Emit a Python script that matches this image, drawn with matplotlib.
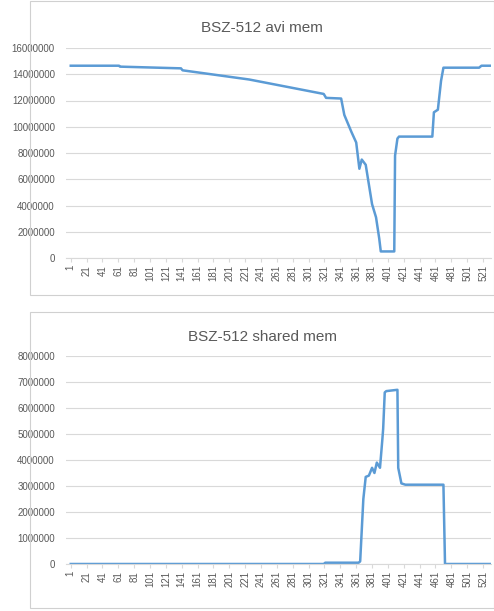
import matplotlib
matplotlib.use("Agg")
import matplotlib.pyplot as plt
from matplotlib.patches import Rectangle

avi_x = [1, 62, 63, 140, 142, 226, 320, 323, 342, 346, 355, 361, 365, 368, 373, 377, 381, 386, 390, 392, 409, 410, 413, 415, 457, 459, 464, 468, 471, 516, 519, 530]
avi_y = [14650000, 14650000, 14580000, 14450000, 14300000, 13600000, 12500000, 12200000, 12150000, 10900000, 9600000, 8800000, 6800000, 7500000, 7100000, 5600000, 4100000, 3100000, 1500000, 500000, 500000, 7800000, 9100000, 9250000, 9250000, 11100000, 11300000, 13500000, 14500000, 14500000, 14650000, 14650000]

sh_x = [1, 320, 322, 364, 366, 370, 373, 377, 381, 384, 387, 391, 394, 395, 397, 399, 413, 414, 418, 423, 471, 473, 530]
sh_y = [0, 0, 50000, 50000, 100000, 2500000, 3350000, 3400000, 3700000, 3500000, 3900000, 3700000, 4800000, 5200000, 6600000, 6650000, 6700000, 3700000, 3100000, 3050000, 3050000, 0, 0]

xticks = list(range(1, 531, 20))
titles = ["BSZ-512 avi mem", "BSZ-512 shared mem"]

W, H = 494, 611
fig = plt.figure(figsize=(W/100, H/100), dpi=100)
fig.patch.set_facecolor("white")
gray = "#595959"
line = "#5B9BD5"

# chart frames
for (x0, y0, x1, y1) in [(30, 1, 494, 295), (30, 312, 494, 608)]:
    fig.patches.append(Rectangle((x0/W, 1-y1/H), (x1-x0)/W, (y1-y0)/H, transform=fig.transFigure,
                                 fill=False, edgecolor="#d0d0d0", lw=0.8))

specs = [
    (avi_x, avi_y, [48, 258], 16000000, 2000000, titles[0], 28),
    (sh_x, sh_y, [356, 564], 8000000, 1000000, titles[1], 337),
]
for xs, ys, (top, bot), ymax, step, title, ty in specs:
    ax = fig.add_axes([66/W, 1-bot/H, (491-66)/W, (bot-top)/H])
    ax.plot(xs, ys, color=line, lw=1.8)
    ax.set_xlim(-5, 531)
    ax.set_ylim(0, ymax)
    ax.set_yticks(range(0, ymax+1, step))
    ax.set_yticklabels([str(v) for v in range(0, ymax+1, step)])
    ax.set_xticks(xticks)
    ax.set_xticklabels([str(t) for t in xticks], rotation=90)
    ax.grid(axis="y", color="#d9d9d9", lw=0.8)
    ax.set_axisbelow(True)
    for s in ["top", "right", "left"]:
        ax.spines[s].set_visible(False)
    ax.spines["bottom"].set_color("#d9d9d9")
    ax.tick_params(axis="y", length=0, labelsize=7, labelcolor=gray, pad=8)
    ax.tick_params(axis="x", length=3, color="#d9d9d9", labelsize=7, labelcolor=gray, pad=2)
    for lab in ax.get_xticklabels() + ax.get_yticklabels():
        lab.set_family("Liberation Sans")
    fig.text(262/W, 1-ty/H, title, ha="center", va="center", fontsize=11, color=gray, family="Liberation Sans")

fig.savefig("out.png", dpi=100)
